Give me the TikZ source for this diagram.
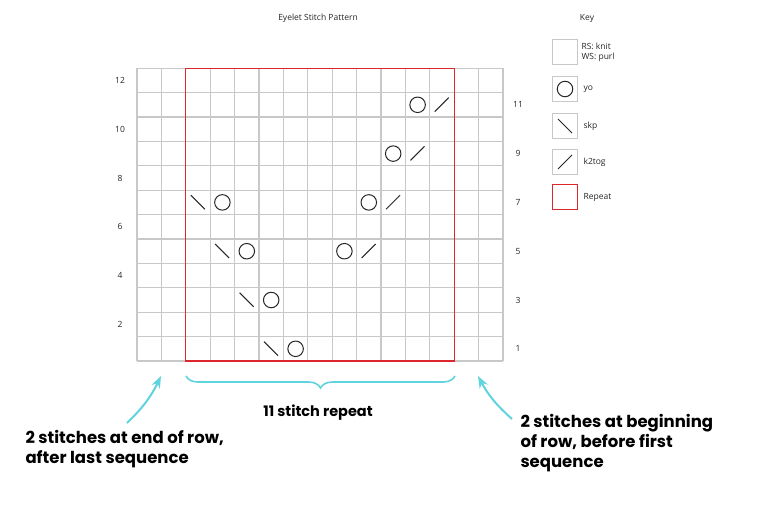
\documentclass[tikz,border=0pt]{standalone}
\usepackage{fontspec}
\setmainfont{Open Sans}
\newfontfamily\notefont{Poppins}
\usetikzlibrary{arrows.meta,decorations.pathreplacing}
\definecolor{gridgray}{RGB}{200,200,200}
\definecolor{repeatred}{RGB}{220,40,45}
\definecolor{notecyan}{RGB}{95,212,222}
\tikzset{
  cell/.style={draw=gridgray, line width=1.2pt, minimum size=24.4pt, inner sep=0pt},
  yo/.style={circle, draw=black!85, line width=1pt, minimum size=15.5pt, inner sep=0pt},
  lbl/.style={font=\fontsize{8.5}{10}\selectfont, text=black!85},
  note/.style={font=\notefont\bfseries\fontsize{16.5}{20}\selectfont, align=left, anchor=north west},
}
\newcommand{\skp}[2]{\draw[line width=1pt, black!85] (137+#1*24.4+5, 361-#2*24.4+5) -- ++(14,14);}
\newcommand{\ktog}[2]{\draw[line width=1pt, black!85] (137+#1*24.4+5, 361-#2*24.4+19) -- ++(14,-14);}
\newcommand{\yo}[2]{\node[yo] at (137+#1*24.4+12.2, 361-#2*24.4+12.2) {};}
\begin{document}
\begin{tikzpicture}[x=1pt, y=-1pt, >={Stealth[]}]
  \useasboundingbox (0,0) rectangle (768,512);

  % chart grid
  \foreach \c in {0,...,15}
    \draw[gridgray, line width=1.2pt] (137+\c*24.4, 68) -- (137+\c*24.4, 361);
  \foreach \r in {0,...,12}
    \draw[gridgray, line width=1.2pt] (137, 361-\r*24.4) -- (503, 361-\r*24.4);
  \draw[repeatred, line width=1.2pt] (185.8,68.2) rectangle (454.2,361);

  \node[lbl] (title) at (318,18) {Eyelet Stitch Pattern};

  % row numbers
  \foreach \r in {2,4,...,12}
    \node[lbl] (L\r) at (120, 361-\r*24.4+12.2) {\r};
  \foreach \r in {1,3,...,11}
    \node[lbl] (R\r) at (518, 361-\r*24.4+12.2) {\r};

  % stitches
  \skp{5}{1} \yo{6}{1}
  \skp{4}{3} \yo{5}{3}
  \skp{3}{5} \yo{4}{5} \yo{8}{5} \ktog{9}{5}
  \skp{2}{7} \yo{3}{7} \yo{9}{7} \ktog{10}{7}
  \yo{10}{9} \ktog{11}{9}
  \yo{11}{11} \ktog{12}{11}

  % key
  \node[lbl] (key) at (587,18) {Key};
  \node[cell] (k1) at (565,52) {};
  \node[lbl, anchor=west, align=left, font=\fontsize{8.5}{10}\selectfont] at (578,52) {RS: knit\\WS: purl};
  \node[cell] (k2) at (565,89) {};
  \node[yo] at (k2) {};
  \node[lbl, anchor=west] at (580,89) {yo};
  \node[cell] (k3) at (565,126) {};
  \draw[line width=1pt, black!85] ([shift={(-7,-7)}]k3.center) -- ([shift={(7,7)}]k3.center);
  \node[lbl, anchor=west] at (580,126) {skp};
  \node[cell] (k4) at (565,162) {};
  \draw[line width=1pt, black!85] ([shift={(-7,7)}]k4.center) -- ([shift={(7,-7)}]k4.center);
  \node[lbl, anchor=west] at (580,162) {k2tog};
  \node[cell, draw=repeatred] (k5) at (565,197) {};
  \node[lbl, anchor=west] at (580,197) {Repeat};

  % notes
  \coordinate (bl) at (186,376);
  \coordinate (br) at (455,376);
  \draw[notecyan, line width=1.6pt, decorate, decoration={brace, mirror, amplitude=12pt}] (bl) -- (br);
  \node[font=\notefont\bfseries\fontsize{14.5}{17}\selectfont] (rep) at (318,413) {11 stitch repeat};

  \node[note] (left) at (22,427) {2 stitches at end of row,\\after last sequence};
  \node[note] (right) at (517,411) {2 stitches at beginning\\of row, before first\\sequence};
  \coordinate (la) at (161,376);
  \coordinate (ra) at (478,376);
  \draw[->, notecyan, line width=2pt] ([shift={(105,-4)}]left.north west) to[bend right=10] (la);
  \draw[->, notecyan, line width=2pt] ([shift={(-5,8)}]right.north west) to[bend left=10] (ra);
\end{tikzpicture}
\end{document}
